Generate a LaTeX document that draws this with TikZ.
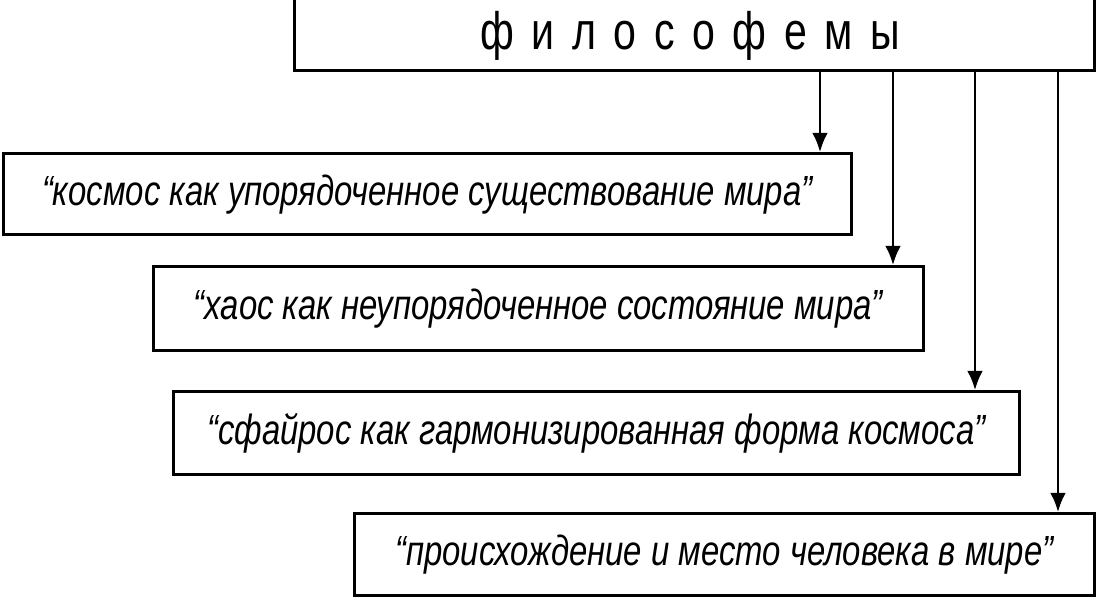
\documentclass[tikz,border=0pt]{standalone}
\usepackage{fontspec}
\setmainfont{Liberation Sans}[FakeStretch=0.78]
\usetikzlibrary{arrows.meta}
\tikzset{
  box/.style={draw,line width=1.6pt,inner sep=0pt,anchor=south west},
  pointer/.style={line width=1.6pt,-{Latex[length=11pt,width=9pt]}}
}
\begin{document}
\begin{tikzpicture}[x=0.02cm,y=0.02cm]
\useasboundingbox (0,0) rectangle (1096,599);
% top box
\node[box,minimum width=800\pgflinewidth/1.6*0.02cm/0.02cm,minimum width=16cm,minimum height=1.44cm] (top) at (293,527) {};
\node[font=\fontsize{30}{30}\selectfont] at (690,563) {ф\,\,и\,\,л\,\,о\,\,с\,\,о\,\,ф\,\,е\,\,м\,\,ы};
% lower boxes
\node[box,minimum width=16.96cm,minimum height=1.62cm] (k1) at (2,363) {};
\node[box,minimum width=15.4cm,minimum height=1.68cm] (k2) at (152,247) {};
\node[box,minimum width=16.92cm,minimum height=1.66cm] (k3) at (172,123) {};
\node[box,minimum width=14.8cm,minimum height=1.64cm] (k4) at (353,2) {};
\begin{scope}[font=\itshape\fontsize{24}{24}\selectfont]
\node at (k1.center) {“космос как упорядоченное существование мира”};
\node at (k2.center) {“хаос как неупорядоченное состояние мира”};
\node at (k3.center) {“сфайрос как гармонизированная форма космоса”};
\node at (k4.center) {“происхождение и место человека в мире”};
\end{scope}
% connectors
\coordinate (a1) at (820,527);
\coordinate (a2) at (893,527);
\coordinate (a3) at (975,527);
\coordinate (a4) at (1058,527);
\draw[pointer] (a1) -- (a1 |- k1.north);
\draw[pointer] (a2) -- (a2 |- k2.north);
\draw[pointer] (a3) -- (a3 |- k3.north);
\draw[pointer] (a4) -- (a4 |- k4.north);
\end{tikzpicture}
\end{document}
